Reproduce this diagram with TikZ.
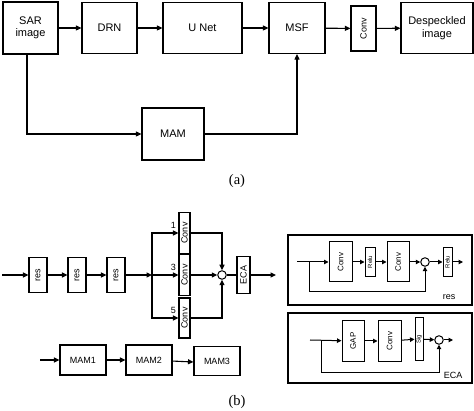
\documentclass[tikz,border=0pt]{standalone}
\usepackage{fontspec}
\setmainfont{Liberation Sans}
\newfontfamily\capfont{Liberation Serif}
\usetikzlibrary{arrows.meta, positioning}

\begin{document}
\begin{tikzpicture}[x=1pt, y=-1pt,
    box/.style={draw, line width=1.2pt, inner sep=0pt, align=center, font=\fontsize{11}{12.5}\selectfont},
    midbox/.style={box, line width=1.1pt, font=\fontsize{9}{10}\selectfont},
    smbox/.style={box, line width=1pt, font=\fontsize{8}{9}\selectfont},
    tinybox/.style={box, line width=1pt, font=\fontsize{6}{7}\selectfont},
    frame/.style={draw, line width=1.2pt, inner sep=0pt},
    sumnode/.style={draw, circle, line width=1pt, minimum size=8.5pt, inner sep=0pt},
    arr/.style={-{Triangle[length=5.5pt, width=5pt]}, line width=1.1pt},
    sarr/.style={-{Triangle[length=4.5pt, width=4.5pt]}, line width=1pt},
    ln/.style={line width=1.1pt},
    lbl/.style={font=\fontsize{9}{10}\selectfont, inner sep=1pt},
    captext/.style={font=\capfont\fontsize{14.5}{16}\selectfont}]
    \useasboundingbox (0,0) rectangle (474,411);

    % (a)
    \node[box, minimum width=55, minimum height=52] (sar) at (30.5,28) {SAR\\image};
    \node[box, minimum width=55, minimum height=51] (drn) at (109.5,28) {DRN};
    \node[box, minimum width=79, minimum height=51] (unet) at (202.5,28) {U Net};
    \node[box, minimum width=56, minimum height=51] (msf) at (297,28) {MSF};
    \node[box, font=\fontsize{9}{10}\selectfont, minimum width=25, minimum height=45] (conv) at (363.5,28.5) {\rotatebox{90}{Conv}};
    \node[box, minimum width=72, minimum height=51] (desp) at (437,28) {Despeckled\\image};
    \node[box, minimum width=62, minimum height=52] (mam) at (173,134) {MAM};
    \draw[arr] (sar) -- (drn);
    \draw[arr] (drn) -- (unet);
    \draw[arr] (unet) -- (msf);
    \draw[arr] (msf) -- (conv);
    \draw[arr] (conv) -- (desp);
    \draw[arr] ([xshift=-3.5pt]sar.south) |- (mam);
    \draw[arr] (mam) -| (msf);
    \node[captext] (capa) at (237,181) {(a)};

    % (b) main chain
    \coordinate (bin) at (2,275);
    \node[midbox, minimum width=18, minimum height=35] (res1) at (38,275) {\rotatebox{90}{res}};
    \node[midbox, minimum width=18, minimum height=35] (res2) at (77,275) {\rotatebox{90}{res}};
    \node[midbox, minimum width=18, minimum height=35] (res3) at (116,275) {\rotatebox{90}{res}};
    \coordinate (br) at (152,275);
    \draw[arr] (bin) -- (res1);
    \draw[arr] (res1) -- (res2);
    \draw[arr] (res2) -- (res3);
    \draw[arr] (res3) -- (br);

    \node[midbox, minimum width=11, minimum height=41] (cva) at (184.5,233) {\rotatebox{90}{Conv}};
    \node[midbox, minimum width=11, minimum height=41] (cvb) at (184.5,275) {\rotatebox{90}{Conv}};
    \node[midbox, minimum width=11, minimum height=40] (cvc) at (184.5,318) {\rotatebox{90}{Conv}};
    \draw[arr] (br) |- (cva);
    \draw[arr] (br) -- (cvb);
    \draw[arr] (br) |- (cvc);
    \node[lbl, anchor=south east] (k1) at (177,230) {1};
    \node[lbl, anchor=south east] (k3) at (177,272) {3};
    \node[lbl, anchor=south east] (k5) at (177,315) {5};

    \node[sumnode] (sum) at (222,275) {};
    \draw[arr] (cva) -| (sum);
    \draw[arr] (cvb) -- (sum);
    \draw[arr] (cvc) -| (sum);
    \node[midbox, minimum width=13, minimum height=37] (eca) at (243.5,275) {\rotatebox{90}{ECA}};
    \coordinate (bout) at (276,275);
    \draw[ln] (sum) -- (eca);
    \draw[arr] (eca) -- (bout);

    % (b) MAM row
    \coordinate (min) at (40,360);
    \node[midbox, minimum width=46, minimum height=30] (mam1) at (83,360) {MAM1};
    \node[midbox, minimum width=46, minimum height=30] (mam2) at (149,360) {MAM2};
    \node[midbox, minimum width=46, minimum height=29] (mam3) at (217,361) {MAM3};
    \draw[arr] (min) -- (mam1);
    \draw[arr] (mam1) -- (mam2);
    \draw[arr] (mam2) -- ([yshift=-1pt]mam3.west);
    \node[captext] (capb) at (237,402) {(b)};

    % res block
    \node[frame, minimum width=184, minimum height=70] (resframe) at (380,270) {};
    \coordinate (rin) at (297,262);
    \coordinate (rbr) at (309,262);
    \coordinate (rlow) at (309,292);
    \node[smbox, minimum width=23, minimum height=40] (rc1) at (340.5,262) {\rotatebox{90}{Conv}};
    \node[tinybox, minimum width=10, minimum height=29] (relu1) at (370,262) {\rotatebox{90}{Relu}};
    \node[smbox, minimum width=22, minimum height=40] (rc2) at (398,262) {\rotatebox{90}{Conv}};
    \node[sumnode] (rsum) at (425,262) {};
    \node[tinybox, minimum width=9, minimum height=29] (relu2) at (447.5,262) {\rotatebox{90}{Relu}};
    \coordinate (rout) at (463,262);
    \draw[sarr] (rin) -- (rc1);
    \draw[sarr] (rc1) -- (relu1);
    \draw[sarr] (relu1) -- (rc2);
    \draw[sarr] (rc2) -- (rsum);
    \draw[sarr] (rsum) -- (relu2);
    \draw[sarr] (relu2) -- (rout);
    \draw[sarr] (rbr) -- (rlow) -| (rsum);
    \node[lbl] (reslbl) at (449,297) {res};

    % ECA block
    \node[frame, minimum width=184, minimum height=70] (ecaframe) at (380,348) {};
    \coordinate (ein) at (310,340);
    \coordinate (ebr) at (321,340);
    \coordinate (elow) at (321,373);
    \node[smbox, minimum width=22, minimum height=41] (gap) at (353,341) {\rotatebox{90}{GAP}};
    \node[smbox, minimum width=23, minimum height=41] (ec) at (389.5,341) {\rotatebox{90}{Conv}};
    \node[tinybox, minimum width=8, minimum height=43] (sig) at (419,339) {\rotatebox{90}{Sig}};
    \node[sumnode] (esum) at (439,340) {};
    \coordinate (eout) at (453,340);
    \draw[sarr] (ein) -- (gap);
    \draw[sarr] (gap) -- (ec);
    \draw[sarr] (ec) -- (sig);
    \draw[sarr] (sig) -- (esum);
    \draw[sarr] (esum) -- (eout);
    \draw[sarr] (ebr) -- (elow) -| (esum);
    \node[lbl] (ecalbl) at (453,375) {ECA};
\end{tikzpicture}
\end{document}
